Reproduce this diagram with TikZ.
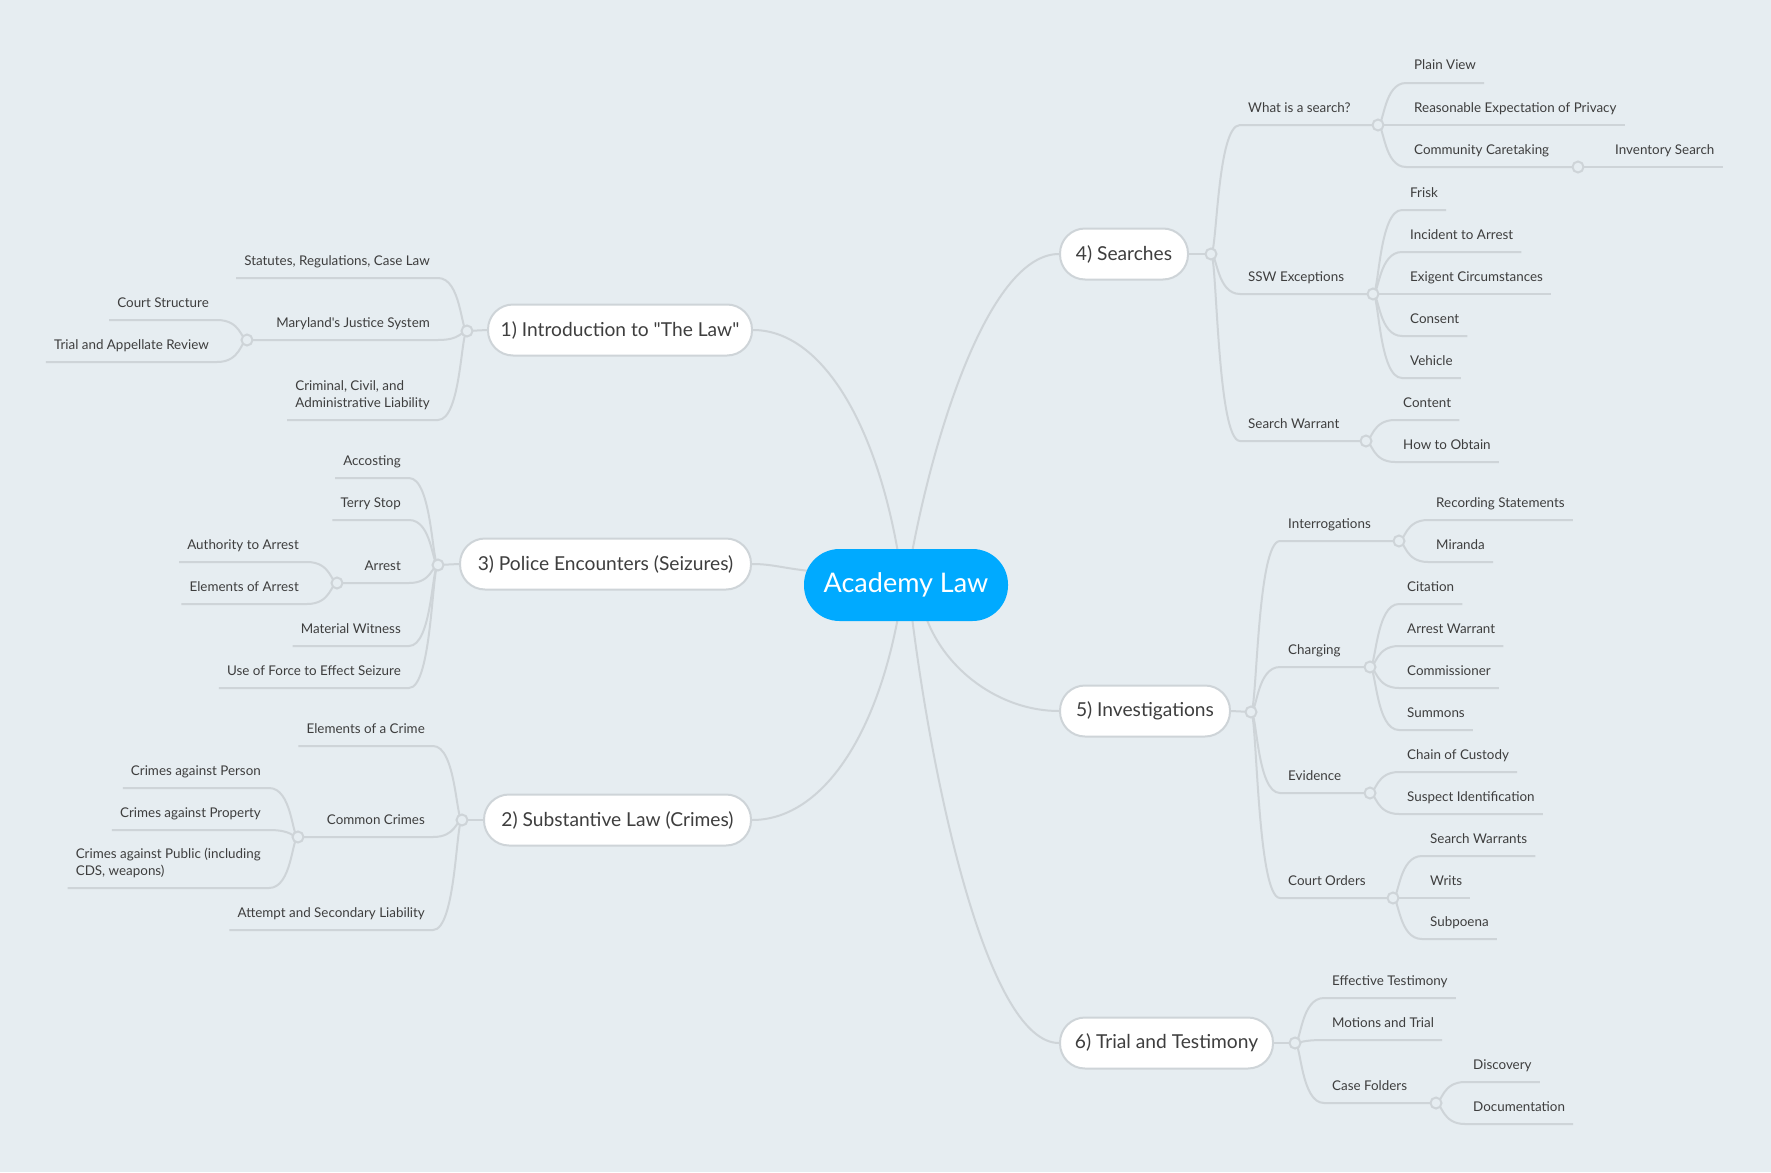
\documentclass[tikz,border=0pt]{standalone}
\usepackage{fontspec}
\setmainfont{Lato}
\newfontfamily\plainlato{Lato}
\usetikzlibrary{calc}
\pgfdeclarelayer{bgl}
\pgfdeclarelayer{lines}
\pgfsetlayers{bgl,lines,main}
\definecolor{bgc}{RGB}{230,237,241}
\definecolor{lnc}{RGB}{206,212,216}
\definecolor{txc}{RGB}{62,62,62}
\definecolor{cen}{RGB}{0,170,255}
\newcommand\kidfont{\plainlato\fontsize{13.4}{16.3}\selectfont}
\newcommand\topfont{\plainlato\fontsize{19.2}{23}\selectfont}
\newcommand\rootfont{\plainlato\fontsize{27}{32}\selectfont}
\tikzset{
  x=1pt, y=-1pt,
  conn/.style={draw=lnc, line width=2pt},
  dot/.style={circle, draw=lnc, line width=2pt, fill=bgc, minimum size=11pt, inner sep=0pt},
  kidR/.style={anchor=base west, inner sep=0pt, text=txc, font=\kidfont},
  kidL/.style={anchor=base east, inner sep=0pt, text=txc, font=\kidfont},
  topic/.style={draw=lnc, line width=2pt, fill=white, rounded corners=25pt, minimum height=51pt, inner sep=0pt, text=txc, font=\topfont},
  rootnode/.style={fill=cen, rounded corners=35.5pt, minimum width=204pt, minimum height=72pt, inner sep=0pt, text=white, font=\rootfont},
  rb/.style={to path={.. controls ($(\tikztostart)+(6,0)$) and ($(\tikztostart |- \tikztotarget)+(6,0)$) .. (\tikztotarget)}},
  lb/.style={to path={.. controls ($(\tikztostart)+(-6,0)$) and ($(\tikztostart |- \tikztotarget)+(-6,0)$) .. (\tikztotarget)}},
}
\newcommand\kR[4]{\node[kidR] (#1) at (#2,#3-13) {#4};
  \coordinate (#1-i) at ($(#1.base west)+(-8,13)$);
  \coordinate (#1-o) at ($(#1.base east)+(8,13)$);}
\newcommand\kL[4]{\node[kidL] (#1) at (#2,#3-13) {#4};
  \coordinate (#1-i) at ($(#1.base east)+(8,13)$);
  \coordinate (#1-o) at ($(#1.base west)+(-8,13)$);}
\begin{document}
\begin{tikzpicture}
\useasboundingbox (0,0) rectangle (1771,1172);
\begin{pgfonlayer}{bgl}
\fill[bgc] (0,0) rectangle (1771,1172);
\end{pgfonlayer}

% root and topics
\node[rootnode] (root) at (906,585) {Academy Law};
\node[topic, minimum width=264pt, anchor=east] (t1) at (753,330) {1) Introduction to "The Law"};
\node[topic, minimum width=291pt, anchor=east] (t3) at (752,564) {3) Police Encounters (Seizures)};
\node[topic, minimum width=267pt, anchor=east] (t2) at (752,820) {2) Substantive Law (Crimes)};
\node[topic, minimum width=128pt, anchor=west] (t4) at (1059,254) {4) Searches};
\node[topic, minimum width=170pt, anchor=west] (t5) at (1059,711) {5) Investigations};
\node[topic, minimum width=213pt, anchor=west] (t6) at (1059,1043) {6) Trial and Testimony};

% circles
\node[dot] (c1) at (467,331) {};
\node[dot] (c3) at (438,565) {};
\node[dot] (c2) at (462,820) {};
\node[dot] (c4) at (1211,254) {};
\node[dot] (c5) at (1251,712) {};
\node[dot] (c6) at (1295,1043) {};
\node[dot] (c1b) at (247,340) {};
\node[dot] (c3c) at (337,583) {};
\node[dot] (c2b) at (298,837) {};
\node[dot] (c4a) at (1378,125) {};
\node[dot] (c4a3) at (1578,167) {};
\node[dot] (c4b) at (1373,294) {};
\node[dot] (c4c) at (1366,441) {};
\node[dot] (c5a) at (1399,541) {};
\node[dot] (c5b) at (1370,667) {};
\node[dot] (c5c) at (1370,793) {};
\node[dot] (c5d) at (1393,898) {};
\node[dot] (c6c) at (1436,1103) {};

% 1) Introduction
\kL{k1a}{430}{278}{Statutes, Regulations, Case Law}
\kL{k1b}{430}{340}{Maryland's Justice System}
\kL{k1b1}{209}{320}{Court Structure}
\kL{k1b2}{209}{362}{Trial and Appellate Review}
\kL{k1c}{430}{420}{\begin{tabular}[b]{@{}l@{}}Criminal, Civil, and\\Administrative Liability\end{tabular}}

% 3) Police Encounters
\kL{k3a}{401}{478}{Accosting}
\kL{k3b}{401}{520}{Terry Stop}
\kL{k3c}{401}{583}{Arrest}
\kL{k3c1}{299}{562}{Authority to Arrest}
\kL{k3c2}{299}{604}{Elements of Arrest}
\kL{k3d}{401}{646}{Material Witness}
\kL{k3e}{401}{688}{Use of Force to Effect Seizure}

% 2) Substantive Law
\kL{k2a}{425}{746}{Elements of a Crime}
\kL{k2b}{425}{837}{Common Crimes}
\kL{k2b1}{261}{788}{Crimes against Person}
\kL{k2b2}{261}{830}{Crimes against Property}
\kL{k2b3}{261}{888}{\begin{tabular}[b]{@{}l@{}}Crimes against Public (including\\CDS, weapons)\end{tabular}}
\kL{k2c}{425}{930}{Attempt and Secondary Liability}

% 4) Searches
\kR{k4a}{1248}{125}{What is a search?}
\kR{k4a1}{1414}{83}{Plain View}
\kR{k4a2}{1414}{125}{Reasonable Expectation of Privacy}
\kR{k4a3}{1414}{167}{Community Caretaking}
\kR{k4a3a}{1615}{167}{Inventory Search}
\kR{k4b}{1248}{294}{SSW Exceptions}
\kR{k4b1}{1410}{210}{Frisk}
\kR{k4b2}{1410}{252}{Incident to Arrest}
\kR{k4b3}{1410}{294}{Exigent Circumstances}
\kR{k4b4}{1410}{336}{Consent}
\kR{k4b5}{1410}{378}{Vehicle}
\kR{k4c}{1248}{441}{Search Warrant}
\kR{k4c1}{1403}{420}{Content}
\kR{k4c2}{1403}{462}{How to Obtain}

% 5) Investigations
\kR{k5a}{1288}{541}{Interrogations}
\kR{k5a1}{1436}{520}{Recording Statements}
\kR{k5a2}{1436}{562}{Miranda}
\kR{k5b}{1288}{667}{Charging}
\kR{k5b1}{1407}{604}{Citation}
\kR{k5b2}{1407}{646}{Arrest Warrant}
\kR{k5b3}{1407}{688}{Commissioner}
\kR{k5b4}{1407}{730}{Summons}
\kR{k5c}{1288}{793}{Evidence}
\kR{k5c1}{1407}{772}{Chain of Custody}
\kR{k5c2}{1407}{814}{Suspect Identification}
\kR{k5d}{1288}{898}{Court Orders}
\kR{k5d1}{1430}{856}{Search Warrants}
\kR{k5d2}{1430}{898}{Writs}
\kR{k5d3}{1430}{939}{Subpoena}

% 6) Trial and Testimony
\kR{k6a}{1332}{998}{Effective Testimony}
\kR{k6b}{1332}{1040}{Motions and Trial}
\kR{k6c}{1332}{1103}{Case Folders}
\kR{k6c1}{1473}{1082}{Discovery}
\kR{k6c2}{1473}{1124}{Documentation}

\begin{pgfonlayer}{lines}
% root to topics
\draw[conn] ($(root.north)+(-8,4)$) .. controls (875,420) and (820,330) .. (t1.east);
\draw[conn] ($(root.north)+(6,4)$) .. controls (935,430) and (990,254) .. (t4.west);
\draw[conn] ($(root.south)+(20,-4)$) .. controls (945,670) and (1000,711) .. (t5.west);
\draw[conn] ($(root.south)+(-8,-4)$) .. controls (875,740) and (820,820) .. (t2.east);
\draw[conn] ($(root.south)+(6,-4)$) .. controls (935,800) and (990,1043) .. (t6.west);
\draw[conn] ($(root.west)+(6,-14)$) .. controls (782,568) and (772,564) .. (t3.east);
% topics to circles
\draw[conn] (t1.west) -- (c1.center);
\draw[conn] (t3.west) -- (c3.center);
\draw[conn] (t2.west) -- (c2.center);
\draw[conn] (t4.east) -- (c4.center);
\draw[conn] (t5.east) -- (c5.center);
\draw[conn] (t6.east) -- (c6.center);
% 1)
\draw[conn] (c1.center) to[lb] (k1a-i) -- (k1a-o);
\draw[conn] (c1.center) to[lb] (k1b-i) -- (c1b.center);
\draw[conn] (c1b.center) to[lb] (k1b1-i) -- (k1b1-o);
\draw[conn] (c1b.center) to[lb] (k1b2-i) -- (k1b2-o);
\draw[conn] (c1.center) to[lb] (k1c-i) -- (k1c-o);
% 3)
\draw[conn] (c3.center) to[lb] (k3a-i) -- (k3a-o);
\draw[conn] (c3.center) to[lb] (k3b-i) -- (k3b-o);
\draw[conn] (c3.center) to[lb] (k3c-i) -- (c3c.center);
\draw[conn] (c3c.center) to[lb] (k3c1-i) -- (k3c1-o);
\draw[conn] (c3c.center) to[lb] (k3c2-i) -- (k3c2-o);
\draw[conn] (c3.center) to[lb] (k3d-i) -- (k3d-o);
\draw[conn] (c3.center) to[lb] (k3e-i) -- (k3e-o);
% 2)
\draw[conn] (c2.center) to[lb] (k2a-i) -- (k2a-o);
\draw[conn] (c2.center) to[lb] (k2b-i) -- (c2b.center);
\draw[conn] (c2b.center) to[lb] (k2b1-i) -- (k2b1-o);
\draw[conn] (c2b.center) to[lb] (k2b2-i) -- (k2b2-o);
\draw[conn] (c2b.center) to[lb] (k2b3-i) -- (k2b3-o);
\draw[conn] (c2.center) to[lb] (k2c-i) -- (k2c-o);
% 4)
\draw[conn] (c4.center) to[rb] (k4a-i) -- (c4a.center);
\draw[conn] (c4a.center) to[rb] (k4a1-i) -- (k4a1-o);
\draw[conn] (c4a.center) to[rb] (k4a2-i) -- (k4a2-o);
\draw[conn] (c4a.center) to[rb] (k4a3-i) -- (c4a3.center);
\draw[conn] (c4a3.center) to[rb] (k4a3a-i) -- (k4a3a-o);
\draw[conn] (c4.center) to[rb] (k4b-i) -- (c4b.center);
\draw[conn] (c4b.center) to[rb] (k4b1-i) -- (k4b1-o);
\draw[conn] (c4b.center) to[rb] (k4b2-i) -- (k4b2-o);
\draw[conn] (c4b.center) to[rb] (k4b3-i) -- (k4b3-o);
\draw[conn] (c4b.center) to[rb] (k4b4-i) -- (k4b4-o);
\draw[conn] (c4b.center) to[rb] (k4b5-i) -- (k4b5-o);
\draw[conn] (c4.center) to[rb] (k4c-i) -- (c4c.center);
\draw[conn] (c4c.center) to[rb] (k4c1-i) -- (k4c1-o);
\draw[conn] (c4c.center) to[rb] (k4c2-i) -- (k4c2-o);
% 5)
\draw[conn] (c5.center) to[rb] (k5a-i) -- (c5a.center);
\draw[conn] (c5a.center) to[rb] (k5a1-i) -- (k5a1-o);
\draw[conn] (c5a.center) to[rb] (k5a2-i) -- (k5a2-o);
\draw[conn] (c5.center) to[rb] (k5b-i) -- (c5b.center);
\draw[conn] (c5b.center) to[rb] (k5b1-i) -- (k5b1-o);
\draw[conn] (c5b.center) to[rb] (k5b2-i) -- (k5b2-o);
\draw[conn] (c5b.center) to[rb] (k5b3-i) -- (k5b3-o);
\draw[conn] (c5b.center) to[rb] (k5b4-i) -- (k5b4-o);
\draw[conn] (c5.center) to[rb] (k5c-i) -- (c5c.center);
\draw[conn] (c5c.center) to[rb] (k5c1-i) -- (k5c1-o);
\draw[conn] (c5c.center) to[rb] (k5c2-i) -- (k5c2-o);
\draw[conn] (c5.center) to[rb] (k5d-i) -- (c5d.center);
\draw[conn] (c5d.center) to[rb] (k5d1-i) -- (k5d1-o);
\draw[conn] (c5d.center) to[rb] (k5d2-i) -- (k5d2-o);
\draw[conn] (c5d.center) to[rb] (k5d3-i) -- (k5d3-o);
% 6)
\draw[conn] (c6.center) to[rb] (k6a-i) -- (k6a-o);
\draw[conn] (c6.center) to[rb] (k6b-i) -- (k6b-o);
\draw[conn] (c6.center) to[rb] (k6c-i) -- (c6c.center);
\draw[conn] (c6c.center) to[rb] (k6c1-i) -- (k6c1-o);
\draw[conn] (c6c.center) to[rb] (k6c2-i) -- (k6c2-o);
\end{pgfonlayer}
\end{tikzpicture}
\end{document}
